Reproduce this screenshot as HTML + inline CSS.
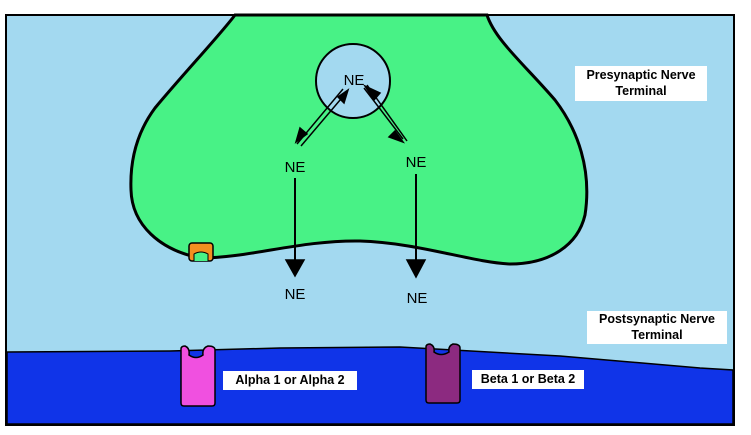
<!DOCTYPE html>
<html><head><style>
body{margin:0;width:751px;height:435px;background:#fff;overflow:hidden;position:relative;font-family:"Liberation Sans",sans-serif}
.lb{position:absolute;background:#fff;font-weight:bold;font-size:12.5px;text-align:center;line-height:16px;color:#000}
</style></head><body>
<svg width="751" height="435" style="position:absolute;left:0;top:0">
<rect x="6" y="15" width="728" height="410" fill="#a3d9f0" stroke="#000" stroke-width="2"/>
<path d="M7,352 L170,351 L280,348 L400,347 L560,356 L700,368 L733,370 L733,424 L7,424 Z" fill="#1034e8" stroke="#000" stroke-width="1.5"/>
<path d="M235,15 C220,35 185,72 155,108 C135,135 130,165 131,190 C132,225 160,250 200,258 C250,258 300,240 360,241 C420,243 470,262 510,264 C550,264 578,245 585,215 C592,170 578,130 555,100 C525,65 495,40 487,15 Z" fill="#48f286" stroke="#000" stroke-width="3"/>
<circle cx="353" cy="81" r="37" fill="#a3d9f0" stroke="#000" stroke-width="2"/>
<rect x="189" y="243" width="24" height="18" rx="3" fill="#f39020" stroke="#000" stroke-width="1.5"/>
<path d="M194,261 L194,254 Q201,250 208,254 L208,261" fill="#48f286" stroke="#000" stroke-width="1"/>
<path d="M181,349 Q181,346 185,346 Q190,348 189,355 Q196,360 203,355 Q202,348 208,346 Q215,346 215,350 L215,403 Q215,406 212,406 L184,406 Q181,406 181,403 Z" fill="#f050e0" stroke="#000" stroke-width="1.5"/>
<path d="M426,347 Q426,344 430,344 Q435,346 434,352 Q441,357 449,352 Q448,346 453,344 Q460,344 460,348 L460,400 Q460,403 457,403 L429,403 Q426,403 426,400 Z" fill="#8c2a80" stroke="#000" stroke-width="1.5"/>
<g stroke="#000" stroke-width="1.5" fill="#000">
<line x1="297" y1="144" x2="343" y2="89"/><line x1="301" y1="146" x2="346" y2="93"/>
<polygon points="296,142 300,128 307,134"/><polygon points="348,90 338,97 344,103"/>
<line x1="364" y1="88" x2="403" y2="139"/><line x1="367" y1="85" x2="407" y2="141"/>
<polygon points="365,86 380,93 374,100"/><polygon points="403,142 389,137 395,131"/>
<line x1="295" y1="178" x2="295" y2="262" stroke-width="2"/>
<polygon points="286,260 304,260 295,276"/>
<line x1="416" y1="174" x2="416" y2="262" stroke-width="2"/>
<polygon points="407,260 425,260 416,277"/>
</g>
<g font-family="Liberation Sans,sans-serif" font-size="15" text-anchor="middle">
<text x="354" y="85">NE</text><text x="295" y="172">NE</text><text x="416" y="167">NE</text>
<text x="295" y="299">NE</text><text x="417" y="303">NE</text>
</g>
</svg>
<div class="lb" style="left:575px;top:66px;width:132px;height:34px;padding-top:1px">Presynaptic Nerve<br>Terminal</div>
<div class="lb" style="left:587px;top:311px;width:140px;height:33px">Postsynaptic Nerve<br>Terminal</div>
<div class="lb" style="left:223px;top:371px;width:134px;height:19px;line-height:19px">Alpha 1 or Alpha 2</div>
<div class="lb" style="left:472px;top:370px;width:112px;height:19px;line-height:19px">Beta 1 or Beta 2</div>
</body></html>
